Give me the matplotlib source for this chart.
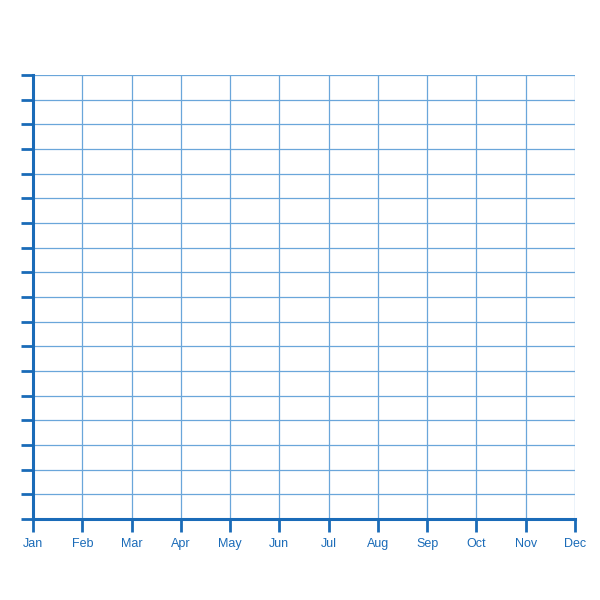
import matplotlib
matplotlib.use('Agg')
import matplotlib.pyplot as plt

months = ['Jan', 'Feb', 'Mar', 'Apr', 'May', 'Jun', 'Jul', 'Aug', 'Sep', 'Oct', 'Nov', 'Dec']
y_ticks = list(range(0, 19))

grid_color = '#6aa6da'
axis_color = '#1a6bb8'

fig = plt.figure(figsize=(6, 6), dpi=100, facecolor='white')
ax = fig.add_axes([33 / 600, 1 - 519 / 600, 542 / 600, 444 / 600])

ax.set_xlim(0, len(months) - 1)
ax.set_ylim(y_ticks[0], y_ticks[-1])
ax.set_xticks(range(len(months)))
ax.set_xticklabels(months, fontfamily='Liberation Sans')
ax.set_yticks(y_ticks)
ax.set_yticklabels([])

ax.grid(True, color=grid_color, linewidth=0.9)
ax.set_axisbelow(True)

for side in ['top', 'right']:
    ax.spines[side].set_visible(False)
for side in ['left', 'bottom']:
    ax.spines[side].set_color(axis_color)
    ax.spines[side].set_linewidth(2.2)
    ax.spines[side].set_zorder(5)

ax.tick_params(axis='both', colors=axis_color, width=2, length=9,
               labelsize=9, labelcolor=axis_color, pad=5)

plt.savefig('out.png', dpi=100, facecolor='white')
plt.close()
